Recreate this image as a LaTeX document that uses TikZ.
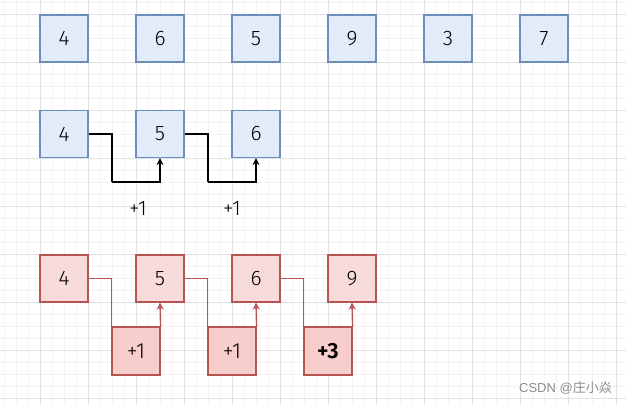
\documentclass[tikz,border=0pt]{standalone}
\usepackage{fontspec}
\setmainfont{Fira Sans Light}
\newfontfamily\cjkfont{Noto Sans CJK SC}
\newfontfamily\wmfont{Liberation Sans}
\usetikzlibrary{patterns,arrows.meta}
\definecolor{bluefill}{HTML}{DAE8FC}
\definecolor{bluehatch}{HTML}{D2E1F7}
\definecolor{bluestroke}{HTML}{6C8EBF}
\definecolor{redfill}{HTML}{F8CECC}
\definecolor{redhatch}{HTML}{F6C8C5}
\definecolor{redstroke}{HTML}{B85450}
\definecolor{gridmajor}{HTML}{E2E2E2}
\definecolor{gridminor}{HTML}{F3F3F3}
\begin{document}
\begin{tikzpicture}[x=1pt,y=-1pt,
  bluebox/.style={draw=bluestroke, line width=1.2pt, minimum width=48pt, minimum height=47pt, inner sep=0pt,
    preaction={fill=bluefill!55}, pattern=north east lines, pattern color=bluehatch, font=\fontsize{21}{21}\selectfont},
  redbox/.style={draw=redstroke, line width=1.2pt, minimum width=48pt, minimum height=47pt, inner sep=0pt,
    preaction={fill=redfill!50}, pattern=north east lines, pattern color=redhatch, font=\fontsize{21}{21}\selectfont},
  plusbox/.style={draw=redstroke, fill=redfill, line width=1.2pt, minimum width=48pt, minimum height=48pt, inner sep=0pt,
    font=\fontsize{22}{22}\selectfont},
  blackconn/.style={draw=black, line width=1.2pt},
  redconn/.style={draw=redstroke, line width=1.4pt},
  tip/.style={-{Stealth[open,length=7pt,width=7pt]}},
  plabel/.style={font=\fontsize{21}{21}\selectfont}]
\useasboundingbox (0,0) rectangle (626,405);
\fill[white] (0,0) rectangle (626,405);
% grid
\foreach \x in {4,16,...,626} \draw[gridminor, line width=0.6pt] (\x,0) -- (\x,405);
\foreach \y in {2,14,...,405} \draw[gridminor, line width=0.6pt] (0,\y) -- (626,\y);
\foreach \x in {40,88,...,626} \draw[gridmajor, line width=0.8pt] (\x,0) -- (\x,405);
\foreach \y in {14,62,...,405} \draw[gridmajor, line width=0.8pt] (0,\y) -- (626,\y);
% row 1
\node[bluebox] (a1) at (64,38.5) {4};
\node[bluebox] (a2) at (160,38.5) {6};
\node[bluebox] (a3) at (256,38.5) {5};
\node[bluebox] (a4) at (352,38.5) {9};
\node[bluebox] (a5) at (448,38.5) {3};
\node[bluebox] (a6) at (544,38.5) {7};
% row 2
\node[bluebox] (b1) at (64,134) {4};
\node[bluebox] (b2) at (160,134) {5};
\node[bluebox] (b3) at (256,134) {6};
\coordinate (c1) at (112,182);
\coordinate (c2) at (208,182);
\draw[blackconn] (b1.east) -| (c1);
\draw[blackconn,tip] (c1) -| (b2.south);
\draw[blackconn] (b2.east) -| (c2);
\draw[blackconn,tip] (c2) -| (b3.south);
\node[plabel] (l1) at (138,209) {+1};
\node[plabel] (l2) at (232,209) {+1};
% row 3
\node[redbox] (r1) at (64,278.5) {4};
\node[redbox] (r2) at (160,278.5) {5};
\node[redbox] (r3) at (256,278.5) {6};
\node[redbox] (r4) at (352,278.5) {9};
\node[plusbox] (p1) at (136,351) {+1};
\node[plusbox] (p2) at (232,351) {+1};
\node[plusbox] (p3) at (328,351) {\fontspec{Fira Sans SemiBold}+3};
\draw[redconn] (r1.east) -| (p1.north west);
\draw[redconn,tip] (p1.north east) -- (r2.south);
\draw[redconn] (r2.east) -| (p2.north west);
\draw[redconn,tip] (p2.north east) -- (r3.south);
\draw[redconn] (r3.east) -| (p3.north west);
\draw[redconn,tip] (p3.north east) -- (r4.south);
% watermark
\node[text=black!45, font=\wmfont\fontsize{13}{13}\selectfont, anchor=east, inner sep=0pt] (wm) at (612,388) {CSDN @{\cjkfont 庄小焱}};
\end{tikzpicture}
\end{document}
